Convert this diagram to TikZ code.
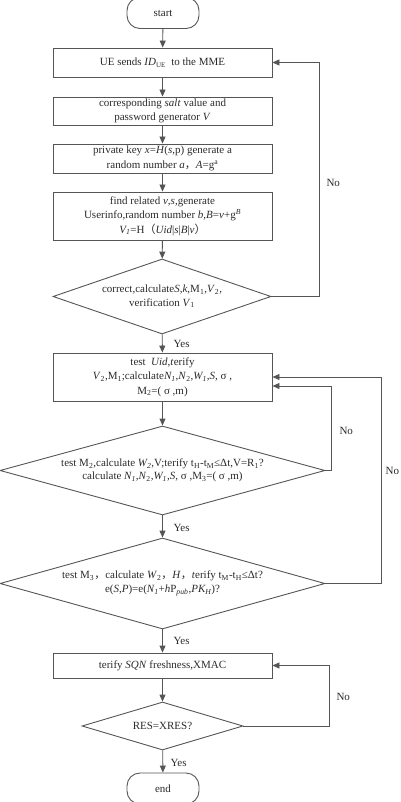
\documentclass[tikz,border=0pt]{standalone}
\usepackage{fontspec}
\setmainfont{Liberation Serif}
\newfontfamily\cjk{Noto Sans CJK SC}
\usetikzlibrary{shapes.geometric,arrows.meta}
\definecolor{ln}{HTML}{555555}
\definecolor{tx}{HTML}{2A2A2A}
\newcommand\sbs[1]{\textsubscript{#1}}
\newcommand\sps[1]{\textsuperscript{#1}}
\newcommand\fw[1]{{\cjk #1}}
\begin{document}
\begin{tikzpicture}[x=1pt,y=-1pt,
  every node/.style={text=tx, font=\fontsize{11}{14.5}\selectfont},
  box/.style={draw=ln, line width=0.9pt, rectangle, minimum width=219pt, align=center, inner sep=0pt},
  dec/.style={draw=ln, line width=0.9pt, diamond, inner sep=0pt},
  term/.style={draw=ln, line width=0.9pt, rounded corners=13pt, minimum width=72pt, minimum height=31pt, inner sep=0pt},
  arr/.style={draw=ln, line width=0.9pt, -{Triangle[length=7pt,width=6pt]}},
  dlab/.style={align=center, font=\fontsize{11}{13.5}\selectfont}]
\useasboundingbox (0,0) rectangle (400,802);
\clip (0,0) rectangle (400,802);

\node[term] (start) at (163,13) {start};
\node[box, minimum height=29pt] (b1) at (162.5,62.5) {UE sends \textit{ID}\sbs{\scriptsize UE}\ \ to the MME};
\node[box, minimum height=28pt] (b2) at (162.5,111) {corresponding \textit{salt} value and\\password generator \textit{V}};
\node[box, minimum height=29pt] (b3) at (162.5,158.5) {private key \textit{x}=\textit{H}(\textit{s},p) generate a\\random number \textit{a}\fw{，}\textit{A}=g\sps{a}};
\node[box, minimum height=48pt] (b4) at (162.5,216) {find related \textit{v},\textit{s},generate\\Userinfo,random number \textit{b},\textit{B}=\textit{v}+g\sps{\textit{B}}\\\textit{V\sbs{1}}=H\fw{（}\textit{Uid}|\textit{s}|\textit{B}|\textit{v}\fw{）}};
\node[dec, minimum width=218pt, minimum height=75pt,
  label={[dlab]center:{correct,calculate\textit{S},\textit{k},M\sbs{1},\textit{V}\sbs{2},\\verification \textit{V}\sbs{1}}}] (d1) at (162,296.5) {};
\node[box, minimum height=48pt] (b5) at (162.5,377) {test \ \textit{Uid},\textit{t}erify\\\textit{V}\sbs{2},M\sbs{1};calculate\textit{N\sbs{1}},\textit{N}\sbs{2},\textit{W\sbs{1}},\textit{S}, σ ,\\M\sbs{2}=( σ ,m)};
\node[dec, minimum width=325pt, minimum height=89pt,
  label={[dlab]center:{test M\sbs{2},calculate \textit{W\sbs{2}},V;terify t\sbs{H}-t\sbs{M}≤Δt,V=R\sbs{1}?\\calculate \textit{N\sbs{1}},\textit{N}\sbs{2},\textit{W\sbs{1}},\textit{S}, σ ,M\sbs{3}=( σ ,m)}}] (d2) at (162.5,470.5) {};
\node[dec, minimum width=325pt, minimum height=91pt,
  label={[dlab]center:{test M\sbs{3}\fw{，}calculate \textit{W}\sbs{2}\fw{，}\textit{H}\fw{，}\textit{t}erify t\sbs{M}-t\sbs{H}≤Δt?\\e(\textit{S},\textit{P})=e(\textit{N\sbs{1}}+\textit{h}P\sbs{\textit{pub}},\textit{PK\sbs{H}})?}}] (d3) at (162.5,583.5) {};
\node[box, minimum height=25pt] (b6) at (162.5,665.5) {terify \textit{SQN} freshness,XMAC};
\node[dec, minimum width=161pt, minimum height=48pt,
  label={[dlab]center:{RES=XRES?}}] (d4) at (162.5,726) {};
\node[term] (end) at (163,788.5) {end};

\draw[arr] (start) -- (b1);
\draw[arr] (b1) -- (b2);
\draw[arr] (b2) -- (b3);
\draw[arr] (b3) -- (b4);
\draw[arr] (b4) -- (d1);
\draw[arr] (d1) -- (b5);
\draw[arr] (b5) -- (d2);
\draw[arr] (d2) -- (d3);
\draw[arr] (d3) -- (b6);
\draw[arr] (b6) -- (d4);
\draw[arr] (d4) -- (end);

\draw[arr] (d1.east) -- ++(48,0) |- (b1.east);
\draw[arr] (d2.east) -- ++(6,0) |- ([yshift=-9pt]b5.east);
\draw[arr] (d3.east) -- ++(56,0) |- (b5.east);
\draw[arr] (d4.east) -- ++(86,0) |- (b6.east);

\node[anchor=west] (y1) at (170,344) {Yes};
\node[anchor=west] (y2) at (170,528) {Yes};
\node[anchor=west] (y3) at (170,641) {Yes};
\node[anchor=west] (y4) at (167,763) {Yes};
\node[anchor=west] (n1) at (323,183) {No};
\node[anchor=west] (n2) at (336,431) {No};
\node[anchor=west, inner sep=0pt] (n3) at (385.5,471) {No};
\node[anchor=west] (n4) at (333,697) {No};
\end{tikzpicture}
\end{document}
